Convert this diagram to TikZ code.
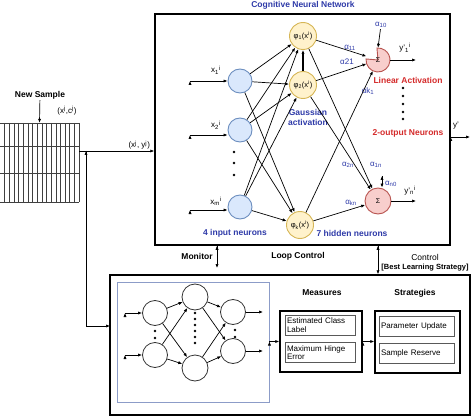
\documentclass[tikz,border=0pt]{standalone}
\usepackage{fontspec}
\setmainfont{Liberation Sans}
\usepackage{tikz}
\usetikzlibrary{arrows.meta}
\definecolor{infill}{HTML}{DAE8FC}
\definecolor{inedge}{HTML}{6C8EBF}
\definecolor{hidfill}{HTML}{FFF2CC}
\definecolor{hidedge}{HTML}{D6B656}
\definecolor{outfill}{HTML}{F8CECC}
\definecolor{outedge}{HTML}{B85450}
\definecolor{lblue}{HTML}{2E3AA8}
\definecolor{lred}{HTML}{D42A2A}
\definecolor{frameblue}{HTML}{8C9CC8}
\tikzstyle{inneuron}=[circle, draw=inedge, fill=infill, line width=0.9pt, minimum size=24pt, inner sep=0pt]
\tikzstyle{hidneuron}=[circle, draw=hidedge, fill=hidfill, line width=0.9pt, minimum size=27pt, inner sep=0pt, font=\fontsize{7.5}{8}\selectfont]
\tikzstyle{outneuron}=[circle, draw=outedge, fill=outfill, line width=0.9pt, minimum size=26pt, inner sep=0pt, font=\fontsize{7}{8}\selectfont]
\tikzstyle{sumlbl}=[circle, minimum size=24pt, inner sep=0pt, font=\fontsize{7}{8}\selectfont]
\tikzstyle{neuron}=[circle, draw=black!80, line width=0.8pt, minimum size=25pt, inner sep=0pt]
\tikzstyle{point}=[circle, fill, inner sep=0pt, minimum size=2.8pt]
\tikzstyle{arrow}=[draw=black, line width=0.7pt, >={Latex[length=4pt, width=3.2pt]}]
\tikzstyle{txt}=[font=\fontsize{8}{9}\selectfont, inner sep=1pt]
\tikzstyle{head}=[font=\fontsize{8.5}{10}\selectfont\bfseries, inner sep=1pt, align=center]
\tikzstyle{bluehead}=[head, text=lblue]
\tikzstyle{redhead}=[head, text=lred]
\tikzstyle{weight}=[txt, text=lblue]
\tikzstyle{frame}=[draw, line width=1.5pt, inner sep=0pt]
\tikzstyle{itembox}=[draw=black!65, line width=0.8pt, inner sep=2pt, align=left, font=\fontsize{8}{8.5}\selectfont, minimum height=20pt]
\tikzstyle{gridline}=[draw=black!75, line width=0.55pt]

\begin{document}
\begin{tikzpicture}[x=1pt, y=-1pt]
    \useasboundingbox (0,0) rectangle (474,417);
    % frames
    \begin{scope}
        \node (cnn) at (302.5,129.5)[frame, minimum width=295pt, minimum height=231pt] {};
        \node (ctl) at (290,345)[frame, minimum width=360pt, minimum height=140pt] {};
        \node (mini) at (193,342)[draw=frameblue, line width=0.9pt, minimum width=152pt, minimum height=120pt] {};
        \node (meas) at (321,341.5)[frame, minimum width=82pt, minimum height=61pt] {};
        \node (strat) at (417.5,342)[frame, minimum width=85pt, minimum height=62pt] {};
        \node (est) at (320,325)[itembox, text width=66pt] {Estimated Class\\Label};
        \node (hinge) at (320,352.5)[itembox, text width=66pt] {Maximum Hinge\\Error};
        \node (upd) at (416.5,326)[itembox, text width=71pt] {Parameter Update};
        \node (res) at (416.5,353.5)[itembox, text width=71pt] {Sample Reserve};
    \end{scope}
    % sample grid
    \node (samp) at (39.5,162.5)[minimum width=79pt, minimum height=79pt, inner sep=0pt] {};
    \foreach \i in {1,...,17}
        \draw[gridline] (\i*4.65,123) -- (\i*4.65,202);
    \foreach \y in {123,146,173,202}
        \draw[gridline] (0,\y) -- (79,\y);
    % labels
    \begin{scope}
        \node (ttl) at (303,5)[bluehead] {Cognitive Neural Network};
        \node (news) at (40,95)[head] {New Sample};
        \node (xc) at (67,111)[txt] {(x\textsuperscript{j},c\textsuperscript{j})};
        \node (mon) at (197,256)[head] {Monitor};
        \node (loop) at (298,256)[head] {Loop Control};
        \node (ctltxt) at (425,257)[txt, font=\fontsize{8.5}{10}\selectfont] {Control};
        \node (best) at (425,268)[head, font=\fontsize{7.5}{9}\selectfont\bfseries] {[Best Learning Strategy]};
        \node (meastxt) at (322,293)[head] {Measures};
        \node (strtxt) at (415,293)[head] {Strategies};
        \node (gauss) at (308,117)[bluehead] {Gaussian\\activation};
        \node (innum) at (235,233)[bluehead] {4 input neurons};
        \node (hidnum) at (352,233)[bluehead] {7 hidden neurons};
        \node (lin) at (408,80)[redhead] {Linear Activation};
        \node (twoout) at (408,133)[redhead] {2-output Neurons};
        \node (yprime) at (456,126)[txt] {y'};
    \end{scope}
    % cognitive network
    \begin{scope}
        \node (x1) at (240,81)[inneuron] {};
        \node (x2) at (240,130)[inneuron] {};
        \node (xm) at (240,207)[inneuron] {};
        \node (d1) at (234,152)[point] {};
        \node (d2) at (234,163)[point] {};
        \node (d3) at (234,175)[point] {};
        \node (h1) at (303,36)[hidneuron] {φ\textsubscript{1}(x\textsuperscript{i})};
        \node (h2) at (303,85)[hidneuron] {φ\textsubscript{2}(x\textsuperscript{i})};
        \node (hk) at (300,225)[hidneuron] {φ\textsubscript{k}(x\textsuperscript{i})};
        \fill[outfill] (378,60) -- ++(175:12pt) arc[start angle=175, end angle=455, radius=12pt] -- cycle;
        \draw[outedge, line width=0.9pt] (378,60) -- ++(175:12pt) arc[start angle=175, end angle=455, radius=12pt] -- cycle;
        \node (o1) at (378,60)[sumlbl] {Σ};
        \node (on) at (378,201)[outneuron] {Σ};
        \node (e1) at (403,88)[point] {};
        \node (e2) at (403,96)[point] {};
        \node (e3) at (403,104)[point] {};
        \node (e4) at (403,112)[point] {};
        \node (e5) at (403,119)[point] {};
        \node (lx1) at (216,70)[txt] {x\textsubscript{1}\textsuperscript{i}};
        \node (lx2) at (216,125)[txt] {x\textsubscript{2}\textsuperscript{i}};
        \node (lxm) at (216,201)[txt] {x\textsubscript{m}\textsuperscript{i}};
        \node (a10) at (381,25)[weight] {α\textsubscript{10}};
        \node (a11) at (350,48)[weight] {α\textsubscript{11}};
        \node (a21) at (347,62)[weight] {α21};
        \node (ak1) at (368,91)[weight] {αk\textsubscript{1}};
        \node (a2n) at (348,165)[weight] {α\textsubscript{2n}};
        \node (a1n) at (376,165)[weight] {α\textsubscript{1n}};
        \node (akn) at (351,203)[weight] {α\textsubscript{kn}};
        \node (an0) at (391,184)[weight] {α\textsubscript{n0}};
        \node (ly1) at (405,48)[txt] {y'\textsubscript{1}\textsuperscript{i}};
        \node (lyn) at (410,191)[txt] {y'\textsubscript{n}\textsuperscript{i}};
        \coordinate (x1in) at (190,81);
        \coordinate (x2in) at (190,135);
        \coordinate (xmin) at (190,210);
        \coordinate (y1out) at (416,60);
        \coordinate (ynout) at (416,201);
        \coordinate (n0in) at (382,176);
        \coordinate (yout) at (470,137);
    \end{scope}
    % learning monitor
    \begin{scope}
        \node (mi1) at (155,313)[neuron] {};
        \node (mi2) at (155,355)[neuron] {};
        \node (mh1) at (195,297)[neuron, minimum size=26pt] {};
        \node (mh2) at (195,368)[neuron, minimum size=26pt] {};
        \node (mo1) at (233,312)[neuron] {};
        \node (mo2) at (233,351)[neuron] {};
        \node (p1) at (155,331)[point] {};
        \node (p2) at (155,338)[point] {};
        \foreach \y in {313,319,325,331,337,343}
            \node at (195,\y)[point] {};
        \node (p3) at (235,330)[point] {};
        \node (p4) at (235,337)[point] {};
        \coordinate (mi1in) at (125,313);
        \coordinate (mi2in) at (125,355);
        \coordinate (mo1out) at (263,312);
        \coordinate (mo2out) at (263,351);
    \end{scope}
    \begin{scope}
        \path [arrow, ->] (x1in) edge (x1);
        \path [arrow, ->] (x2in) edge (x2in -| x2.west);
        \path [arrow, ->] (xmin) edge (xmin -| xm.west);
        \foreach \s in {x1,x2,xm}
            \foreach \t in {h1,h2,hk}
                \path [arrow, ->] (\s) edge (\t);
        \path [arrow, ->, line width=1.4pt] (h2) edge (h1);
        \foreach \s in {h1,h2,hk}
            \foreach \t in {o1,on}
                \path [arrow, ->] (\s) edge (\t);
        \path [arrow, ->] (a10) edge (o1.north);
        \path [arrow, ->] (n0in) edge (n0in |- on.north);
        \path [arrow, ->] (o1) edge (y1out);
        \path [arrow, ->] (on) edge (ynout);
        \path [arrow, ->] (yout -| cnn.east) edge (yout);
        % sample feed
        \coordinate (split) at (86,151);
        \coordinate (lowin) at (110,326);
        \coordinate (monend) at (217,268);
        \coordinate (ctlx) at (378,0);
        \path [arrow, ->] (news) edge (samp.north);
        \path [arrow, -] (samp.east |- split) edge (split);
        \path [arrow, ->] (split) edge node[txt, pos=0.78, above] {(x\textsuperscript{j}, y\textsuperscript{j})} (split -| cnn.west);
        \draw [arrow, ->] (split) |- (lowin);
        \path [arrow, ->] (monend |- cnn.south) edge (monend);
        \path [arrow, ->] (ctlx |- cnn.south) edge (ctlx |- ctl.north);
        % monitor network
        \path [arrow, ->] (mi1in) edge (mi1);
        \path [arrow, ->] (mi2in) edge (mi2);
        \foreach \s in {mi1,mi2}
            \foreach \t in {mh1,mh2}
                \path [arrow, ->] (\s) edge (\t);
        \foreach \s in {mh1,mh2}
            \foreach \t in {mo1,mo2}
                \path [arrow, ->] (\s) edge (\t);
        \path [arrow, ->] (mo1) edge (mo1out);
        \path [arrow, ->] (mo2) edge (mo2out);
        \path [arrow, ->] (meas.west -| mini.east) edge (meas.west);
        \path [arrow, ->] (meas.east) edge (meas.east -| strat.west);
    \end{scope}
\end{tikzpicture}
\end{document}
